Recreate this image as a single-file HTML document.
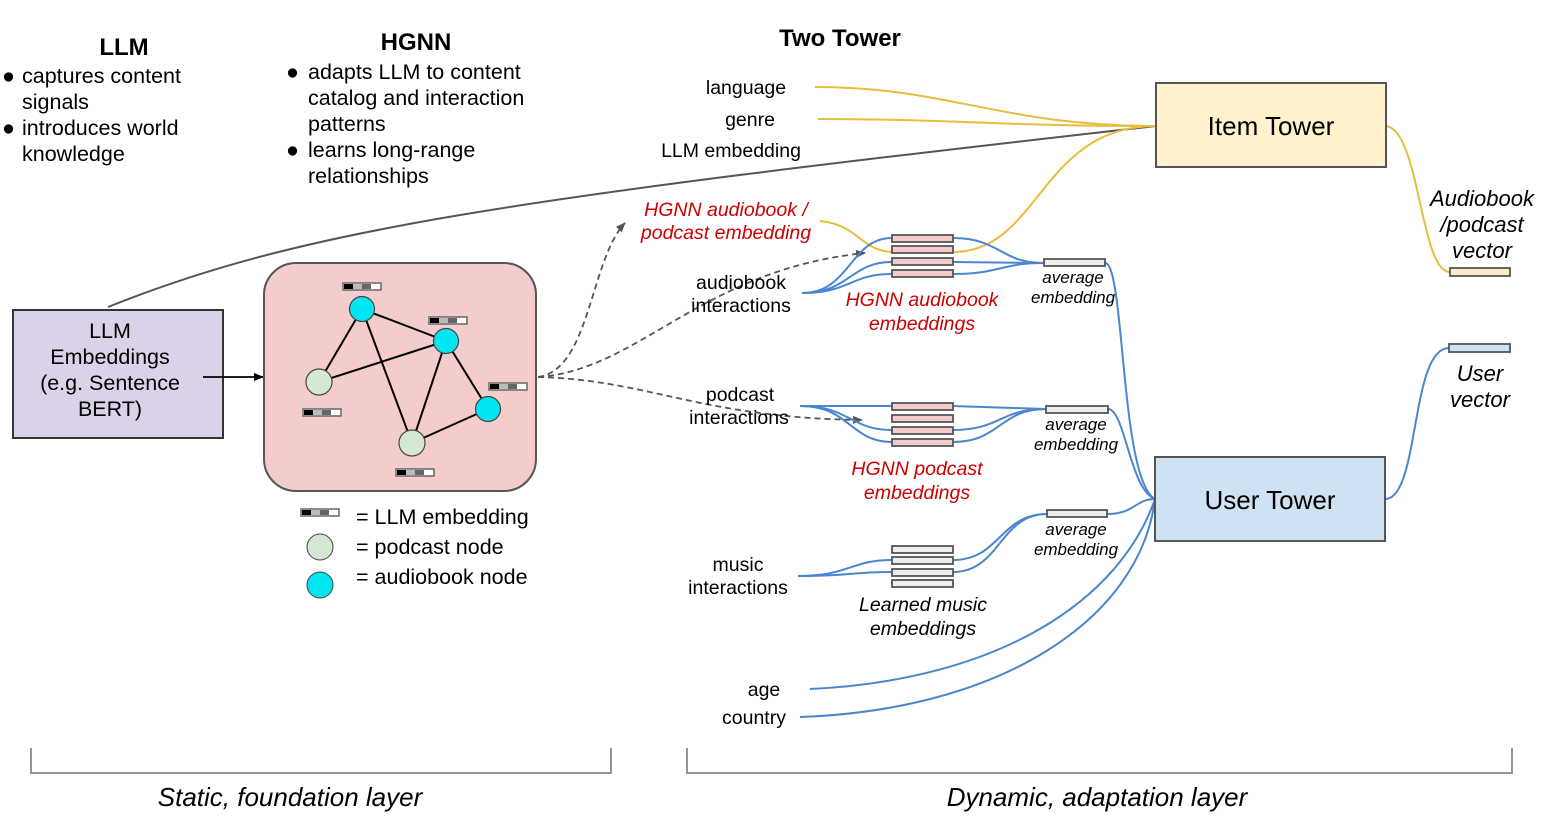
<!DOCTYPE html>
<html><head><meta charset="utf-8"><style>
html,body{margin:0;padding:0;background:#fff}
svg text{font-family:"Liberation Sans",Arial,sans-serif}
</style></head><body>
<svg width="1561" height="832" viewBox="0 0 1561 832" xmlns="http://www.w3.org/2000/svg">
<defs>
<marker id="ah" markerWidth="10" markerHeight="8" refX="9" refY="4" orient="auto" markerUnits="userSpaceOnUse"><path d="M0,0 L10,4 L0,8 z" fill="#555"/></marker>
<marker id="ab" markerWidth="10" markerHeight="8" refX="9" refY="4" orient="auto" markerUnits="userSpaceOnUse"><path d="M0,0 L10,4 L0,8 z" fill="#000"/></marker>
<g id="emb"><rect x="0" y="0" width="38" height="7" fill="#fff" stroke="#666" stroke-width="1.5"/><rect x="1" y="1" width="9" height="5" fill="#000"/><rect x="10" y="1" width="9" height="5" fill="#bbb"/><rect x="19" y="1" width="9" height="5" fill="#666"/></g>
</defs>

<g font-size="21.5" fill="#000">
<text x="124" y="55" font-weight="bold" font-size="24" text-anchor="middle">LLM</text>
<text x="2" y="83">●</text><text x="22" y="83">captures content</text>
<text x="22" y="109">signals</text>
<text x="2" y="135">●</text><text x="22" y="135">introduces world</text>
<text x="22" y="161">knowledge</text>
<text x="416" y="50" font-weight="bold" font-size="24" text-anchor="middle">HGNN</text>
<text x="286" y="79">●</text><text x="308" y="79">adapts LLM to content</text>
<text x="308" y="105">catalog and interaction</text>
<text x="308" y="131">patterns</text>
<text x="286" y="157">●</text><text x="308" y="157">learns long-range</text>
<text x="308" y="183">relationships</text>
<text x="840" y="46" font-weight="bold" font-size="24" text-anchor="middle">Two Tower</text>
</g>

<rect x="13" y="310" width="210" height="128" fill="#d9d2e9" stroke="#333" stroke-width="2"/>
<g font-size="21.5" text-anchor="middle"><text x="110" y="338">LLM</text><text x="110" y="364">Embeddings</text><text x="110" y="390">(e.g. Sentence</text><text x="110" y="416">BERT)</text></g>
<line x1="203" y1="377" x2="263" y2="377" stroke="#000" stroke-width="1.8" marker-end="url(#ab)"/>
<path d="M108,307 C300,230 500,200 1156,126" fill="none" stroke="#555" stroke-width="2"/>

<rect x="264" y="263" width="272" height="228" rx="32" fill="#f4cccc" stroke="#555" stroke-width="2"/>
<g stroke="#000" stroke-width="2">
<line x1="362" y1="309" x2="446" y2="341"/><line x1="362" y1="309" x2="319" y2="382"/><line x1="362" y1="309" x2="412" y2="443"/>
<line x1="319" y1="382" x2="446" y2="341"/><line x1="446" y1="341" x2="412" y2="443"/><line x1="446" y1="341" x2="488" y2="409"/><line x1="412" y1="443" x2="488" y2="409"/>
</g>
<g stroke="#444" stroke-width="1.2">
<circle cx="362" cy="309" r="12.5" fill="#00e5f0"/><circle cx="446" cy="341" r="12.5" fill="#00e5f0"/><circle cx="488" cy="409" r="12.5" fill="#00e5f0"/>
<circle cx="319" cy="382" r="13" fill="#d5e8d4"/><circle cx="412" cy="443" r="13" fill="#d5e8d4"/>
</g>
<use href="#emb" x="343" y="283"/><use href="#emb" x="429" y="317"/><use href="#emb" x="489" y="383"/><use href="#emb" x="303" y="409"/><use href="#emb" x="396" y="469"/>
<use href="#emb" x="301" y="509"/>
<circle cx="320" cy="547" r="13" fill="#d5e8d4" stroke="#444"/>
<circle cx="320" cy="585" r="13" fill="#00e5f0" stroke="#444"/>
<g font-size="21.5"><text x="356" y="524">= LLM embedding</text><text x="356" y="554">= podcast node</text><text x="356" y="584">= audiobook node</text></g>

<g fill="none" stroke="#555" stroke-width="1.8" stroke-dasharray="6,4">
<path d="M538,377 C590,370 590,260 625,223" marker-end="url(#ah)"/>
<path d="M538,377 C640,370 700,270 865,253" marker-end="url(#ah)"/>
<path d="M538,377 C650,380 700,418 862,420" marker-end="url(#ah)"/>
</g>

<g fill="none" stroke="#e8bd3c" stroke-width="2">
<path d="M815,87 C950,87 1000,126 1156,126"/>
<path d="M818,119 C950,119 1000,126 1156,126"/>
<path d="M820,221 C860,225 860,252 895,252 L953,252 C1040,252 1040,126 1156,126"/>
<path d="M1386,126 C1420,130 1420,272 1450,272"/>
</g>

<g fill="none" stroke="#4a86d0" stroke-width="2">
<path d="M802,293 C850,293 850,238 892,238"/><path d="M802,293 C850,293 850,262 892,262"/><path d="M802,293 C850,293 850,274 892,274"/>
<path d="M953,238 C1000,238 1000,263 1044,263"/><path d="M953,262 L1044,263"/><path d="M953,274 C1000,274 1000,263 1044,263"/>
<path d="M800,406 L892,406"/><path d="M800,406 C850,406 850,430 892,430"/><path d="M800,406 C850,406 850,442 892,442"/>
<path d="M953,406 L1046,409"/><path d="M953,430 C1000,430 1000,409 1046,409"/><path d="M953,442 C1000,442 1000,409 1046,409"/>
<path d="M798,576 C850,576 850,560 892,560"/><path d="M798,576 C850,576 850,572 892,572"/>
<path d="M953,560 C1000,560 1000,514 1047,514"/><path d="M953,572 C1000,572 1000,514 1047,514"/>
<path d="M1105,263 C1125,263 1120,480 1155,499"/>
<path d="M1108,409 C1125,409 1130,490 1155,499"/>
<path d="M1107,514 C1135,514 1135,499 1155,499"/>
<path d="M810,689 C1000,680 1120,600 1155,499"/>
<path d="M800,717 C1000,710 1140,620 1155,499"/>
<path d="M1385,499 C1420,499 1410,348 1449,348"/>
</g>

<g stroke="#555" stroke-width="1.8">
<g fill="#f4cccc"><rect x="892" y="235" width="61" height="7"/><rect x="892" y="246" width="61" height="7"/><rect x="892" y="258" width="61" height="7"/><rect x="892" y="270" width="61" height="7"/>
<rect x="892" y="403" width="61" height="7"/><rect x="892" y="415" width="61" height="7"/><rect x="892" y="427" width="61" height="7"/><rect x="892" y="439" width="61" height="7"/></g>
<g fill="#eee"><rect x="892" y="546" width="61" height="7"/><rect x="892" y="557" width="61" height="7"/><rect x="892" y="569" width="61" height="7"/><rect x="892" y="580" width="61" height="7"/>
<rect x="1044" y="259" width="61" height="7"/><rect x="1046" y="406" width="62" height="7"/><rect x="1047" y="510" width="60" height="7"/></g>
<rect x="1450" y="268" width="60" height="8" fill="#fdefc5"/>
<rect x="1449" y="344" width="61" height="8" fill="#cfe2f3"/>
</g>

<rect x="1156" y="83" width="230" height="84" fill="#fff2cc" stroke="#555" stroke-width="2"/>
<text x="1271" y="135" font-size="26" text-anchor="middle">Item Tower</text>
<rect x="1155" y="457" width="230" height="84" fill="#cfe2f3" stroke="#555" stroke-width="2"/>
<text x="1270" y="509" font-size="26" text-anchor="middle">User Tower</text>

<g font-size="19.5" text-anchor="middle">
<text x="746" y="94">language</text><text x="750" y="126">genre</text><text x="731" y="157">LLM embedding</text>
<text x="741" y="289">audiobook</text><text x="741" y="312">interactions</text>
<text x="740" y="401">podcast</text><text x="739" y="424">interactions</text>
<text x="738" y="571">music</text><text x="738" y="594">interactions</text>
<text x="764" y="696">age</text><text x="754" y="724">country</text>
</g>
<g font-size="19.5" text-anchor="middle" font-style="italic" fill="#c00">
<text x="726" y="216">HGNN audiobook /</text><text x="726" y="239">podcast embedding</text>
<text x="922" y="306">HGNN audiobook</text><text x="922" y="330">embeddings</text>
<text x="917" y="475">HGNN podcast</text><text x="917" y="499">embeddings</text>
</g>
<g font-size="17" text-anchor="middle" font-style="italic">
<text x="1073" y="283">average</text><text x="1073" y="303">embedding</text>
<text x="1076" y="430">average</text><text x="1076" y="450">embedding</text>
<text x="1076" y="535">average</text><text x="1076" y="555">embedding</text>
</g>
<g font-size="19.5" text-anchor="middle" font-style="italic">
<text x="923" y="611">Learned music</text><text x="923" y="635">embeddings</text>
</g>
<g font-size="22" text-anchor="middle" font-style="italic">
<text x="1482" y="206">Audiobook</text><text x="1482" y="232">/podcast</text><text x="1482" y="258">vector</text>
<text x="1480" y="381">User</text><text x="1480" y="407">vector</text>
</g>

<g fill="none" stroke="#888" stroke-width="1.8">
<path d="M31,748 L31,773 L611,773 L611,748"/>
<path d="M687,748 L687,773 L1512,773 L1512,748"/>
</g>
<g font-size="26" font-style="italic" text-anchor="middle">
<text x="290" y="806">Static, foundation layer</text>
<text x="1097" y="806">Dynamic, adaptation layer</text>
</g>
</svg>
</body></html>
